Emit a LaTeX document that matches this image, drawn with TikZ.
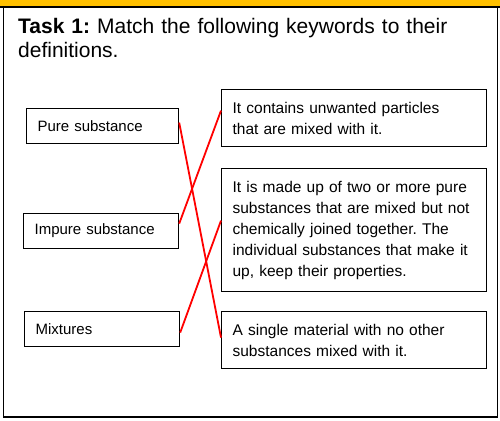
\documentclass[tikz,border=0pt]{standalone}
\usepackage{fontspec}
\setmainfont{Liberation Sans}
\frenchspacing
\definecolor{band}{HTML}{FFC000}
\definecolor{linkred}{HTML}{FF0000}
\begin{document}
\begin{tikzpicture}[x=1pt,y=-1pt,
  box/.style={draw=black, line width=1.2pt, fill=white, anchor=north west,
    inner xsep=11pt, inner ysep=0pt, align=left,
    font=\fontsize{15}{21}\selectfont},
  defbox/.style={box, text width=243pt, font=\fontsize{15.5}{21}\selectfont},
  link/.style={draw=linkred, line width=1.8pt},
  frame/.style={draw=black, line width=1.5pt}]
\useasboundingbox (0,0) rectangle (500,420);
\fill[white] (0,0) rectangle (500,420);
\fill[band] (0,0) rectangle (500,7);
\draw[frame] (0,7) -- (500,7);
\draw[frame] (3.5,7) -- (3.5,417) -- (497.5,417) -- (497.5,7);
\node[anchor=north west, inner sep=0pt, align=left, text width=470pt,
  font=\fontsize{21}{24}\selectfont] (title) at (18,18)
  {\textbf{Task 1:} Match the following keywords to their\\definitions.};
% left boxes
\node[box, text width=130pt, minimum height=35pt] (pure) at (26,108) {Pure substance};
\node[box, text width=133pt, minimum height=35pt] (impure) at (23,213) {Impure substance};
\node[box, text width=133pt, minimum height=35pt] (mix) at (24,311) {Mixtures};
% right boxes
\node[defbox, minimum height=57pt] (d1) at (221,89)
  {It contains unwanted particles\\that are mixed with it.};
\node[defbox, minimum height=123pt] (d2) at (221,168)
  {It is made up of two or more pure\\substances that are mixed but not\\chemically joined together. The\\individual substances that make it\\up, keep their properties.};
\node[defbox, minimum height=57pt] (d3) at (221,311)
  {A single material with no other\\substances mixed with it.};
% links
\draw[link] ([yshift=3.5pt]pure.east) -- ([yshift=2.5pt]d3.west);
\draw[link] ([yshift=7.5pt]impure.east) -- ([yshift=7.5pt]d1.west);
\draw[link] ([yshift=-3.5pt]mix.east) -- ([yshift=9.5pt]d2.west);
\end{tikzpicture}
\end{document}
